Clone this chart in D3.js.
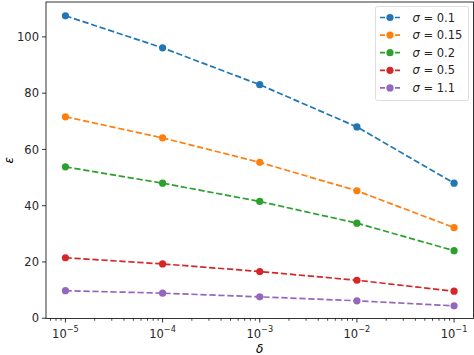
<!DOCTYPE html>
<html>
<head>
<meta charset="utf-8">
<script src="https://cdn.jsdelivr.net/npm/d3@7"></script>
<style>
  body { margin: 0; background: #fff; }
  svg { display: block; font-family: 'DejaVu Sans', sans-serif; }
</style>
</head>
<body>
<div id="chart"></div>
<script>
// delta values on the x axis (log scale)
const deltas = [1e-5, 1e-4, 1e-3, 1e-2, 1e-1]
const xTickExponents = [-5, -4, -3, -2, -1]
const yTicks = [0, 20, 40, 60, 80, 100]

// one series per sigma
const sigmaLabels = ['0.1', '0.15', '0.2', '0.5', '1.1']
const eps_s01 = [107.5, 96.1, 83.0, 68.0, 48.0]
const eps_s015 = [71.6, 64.1, 55.4, 45.3, 32.2]
const eps_s02 = [53.8, 48.0, 41.5, 33.8, 24.0]
const eps_s05 = [21.5, 19.3, 16.6, 13.5, 9.6]
const eps_s11 = [9.8, 8.9, 7.6, 6.2, 4.4]
const seriesValues = [eps_s01, eps_s015, eps_s02, eps_s05, eps_s11]
const colors = ['#1f77b4', '#ff7f0e', '#2ca02c', '#d62728', '#9467bd']

const width = 474, height = 355
const margin = { top: 2, right: 0.5, bottom: 36.5, left: 46 }

const svg = d3.select('#chart').append('svg')
  .attr('width', width)
  .attr('height', height)

const x = d3.scaleLog()
  .domain([Math.pow(10, -5.2), Math.pow(10, -0.8)])
  .range([margin.left, width - margin.right])

const y = d3.scaleLinear()
  .domain([-0.1, 112.4])
  .range([height - margin.bottom, margin.top])

const plotBottom = height - margin.bottom

// minor ticks on x
const minor = []
for (let e = -6; e <= -1; e++) {
  for (let m = 2; m <= 9; m++) {
    const v = m * Math.pow(10, e)
    if (v >= x.domain()[0] && v <= x.domain()[1]) minor.push(v)
  }
}

const axes = svg.append('g').attr('class', 'axes')

axes.append('g')
  .selectAll('line')
  .data(minor)
  .join('line')
  .attr('x1', d => x(d)).attr('x2', d => x(d))
  .attr('y1', plotBottom).attr('y2', plotBottom + 2.3)
  .attr('stroke', '#000').attr('stroke-width', 0.7)

// major x ticks, labels as 10^n
const xt = axes.append('g')
  .selectAll('g')
  .data(xTickExponents)
  .join('g')
  .attr('transform', d => `translate(${x(Math.pow(10, d))},${plotBottom})`)

xt.append('line')
  .attr('y2', 4)
  .attr('stroke', '#000').attr('stroke-width', 0.8)

const xtText = xt.append('text')
  .attr('y', 19.5)
  .attr('text-anchor', 'middle')
  .attr('font-size', 11.5)
  .attr('fill', '#262626')
xtText.append('tspan').text('10')
xtText.append('tspan')
  .attr('dy', -6)
  .attr('font-size', 8.2)
  .text(d => '\u2212' + Math.abs(d))

// y ticks
const yt = axes.append('g')
  .selectAll('g')
  .data(yTicks)
  .join('g')
  .attr('transform', d => `translate(${margin.left},${y(d)})`)

yt.append('line')
  .attr('x2', -4)
  .attr('stroke', '#000').attr('stroke-width', 0.8)

yt.append('text')
  .attr('x', -7)
  .attr('dy', '0.36em')
  .attr('text-anchor', 'end')
  .attr('font-size', 11.5)
  .attr('fill', '#262626')
  .text(d => d)

// axis labels
svg.append('text')
  .attr('x', (margin.left + width - margin.right) / 2)
  .attr('y', 353)
  .attr('text-anchor', 'middle')
  .attr('font-size', 12)
  .attr('font-style', 'italic')
  .text('\u03b4')

svg.append('text')
  .attr('transform', `translate(13,${(margin.top + plotBottom) / 2}) rotate(-90)`)
  .attr('text-anchor', 'middle')
  .attr('font-size', 12)
  .attr('font-style', 'italic')
  .text('\u03b5')

// lines
const line = d3.line()
  .x((d, i) => x(deltas[i]))
  .y(d => y(d))

const lines = svg.append('g').attr('class', 'lines')

const series = lines.selectAll('g')
  .data(seriesValues)
  .join('g')

series.append('path')
  .attr('d', d => line(d))
  .attr('fill', 'none')
  .attr('stroke', (d, i) => colors[i])
  .attr('stroke-width', 1.7)
  .attr('stroke-dasharray', '6.3,2.7')

series.selectAll('circle')
  .data((d, i) => d.map((v, j) => ({ v, j, c: colors[i] })))
  .join('circle')
  .attr('cx', d => x(deltas[d.j]))
  .attr('cy', d => y(d.v))
  .attr('r', 3.6)
  .attr('fill', d => d.c)

// frame
svg.append('rect')
  .attr('x', margin.left)
  .attr('y', margin.top)
  .attr('width', width - margin.right - margin.left)
  .attr('height', plotBottom - margin.top)
  .attr('fill', 'none')
  .attr('stroke', '#000')
  .attr('stroke-width', 0.8)

// legend
const legend = svg.append('g').attr('transform', 'translate(375.5,6.5)')

legend.append('rect')
  .attr('width', 93)
  .attr('height', 94)
  .attr('rx', 2)
  .attr('fill', '#fff')
  .attr('fill-opacity', 0.8)
  .attr('stroke', '#d6d6d6')
  .attr('stroke-width', 0.8)

const item = legend.selectAll('g.item')
  .data(sigmaLabels)
  .join('g')
  .attr('class', 'item')
  .attr('transform', (d, i) => `translate(0,${11 + i * 17.6})`)

item.append('line')
  .attr('x1', 4.5).attr('x2', 24.5)
  .attr('stroke', (d, i) => colors[i])
  .attr('stroke-width', 1.7)
  .attr('stroke-dasharray', '5,10,5')

item.append('circle')
  .attr('cx', 14.5)
  .attr('r', 3.6)
  .attr('fill', (d, i) => colors[i])

const lt = item.append('text')
  .attr('x', 37)
  .attr('dy', '0.36em')
  .attr('font-size', 11.5)
  .attr('fill', '#262626')
lt.append('tspan')
  .attr('font-style', 'italic')
  .text('\u03c3')
lt.append('tspan').text(d => ' = ' + d)
</script>
</body>
</html>
